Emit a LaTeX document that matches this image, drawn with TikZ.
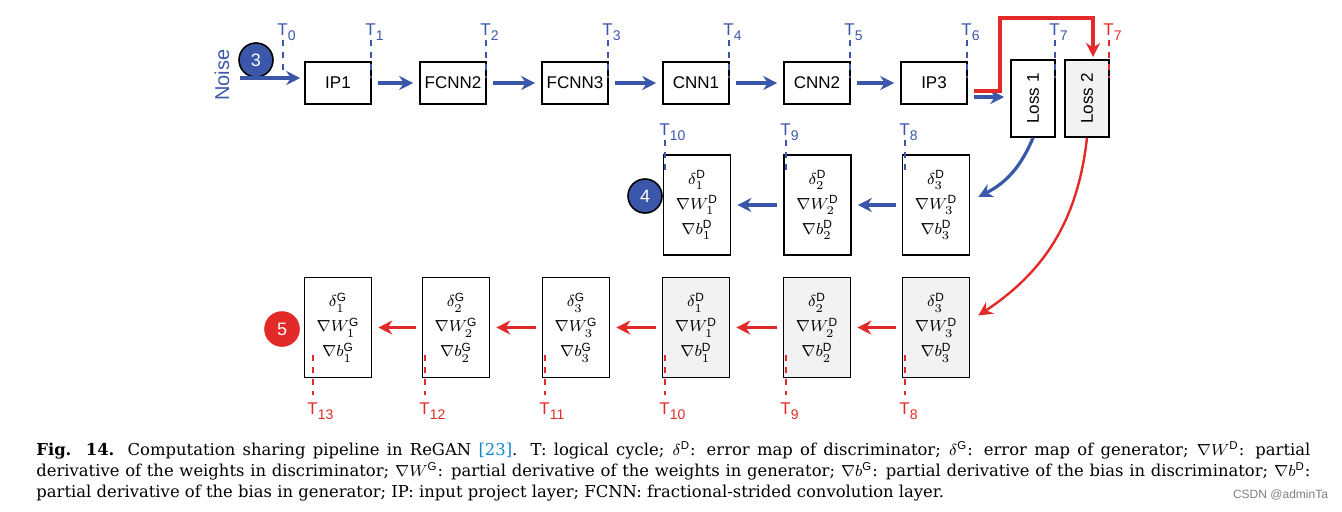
\documentclass[tikz,border=0pt]{standalone}
\usepackage{fontspec}
\setmainfont{Liberation Sans}
\newfontfamily\capfont{DejaVu Serif}
\usetikzlibrary{arrows.meta}
\definecolor{pblue}{RGB}{59,87,170}
\definecolor{pred}{RGB}{226,42,40}
\definecolor{pgrey}{RGB}{242,242,242}
\newcommand{\tlab}[1]{T\raisebox{-0.6ex}{\scriptsize #1}}
\newcommand{\gradbox}[2]{$\delta^{\mathrm{#2}}_{#1}$\\$\nabla W^{\mathrm{#2}}_{#1}$\\$\nabla b^{\mathrm{#2}}_{#1}$}
\begin{document}
\begin{tikzpicture}[x=0.5pt, y=-0.5pt, font=\fontsize{8.5}{12.5}\selectfont]
	\useasboundingbox (0,0) rectangle (1342,511);
	\tikzstyle{layer}=[draw, thick, minimum width=33pt, minimum height=21pt, inner sep=0pt]
	\tikzstyle{grad}=[draw, thick, minimum width=33.5pt, minimum height=50pt, align=center, inner sep=0pt]
	\tikzstyle{loss}=[draw, thick, minimum width=22pt, minimum height=38.5pt, inner sep=0pt]
	\tikzstyle{stage}=[circle, draw, thick, minimum size=17pt, inner sep=0pt, text=white, font=\fontsize{9}{10}\selectfont]
	\tikzstyle{flow}=[line width=1.6pt, -{Stealth[length=7pt, width=7pt]}]
	\tikzstyle{tmark}=[dashed, thick]
	
	% forward pass
	\begin{scope}[every node/.style={layer}]
		\node (ip1)   at (338,83) {IP1};
		\node (fcnn2) at (453,83) {FCNN2};
		\node (fcnn3) at (575,83) {FCNN3};
		\node (cnn1)  at (696,83) {CNN1};
		\node (cnn2)  at (817,83) {CNN2};
		\node (ip3)   at (934,83) {IP3};
	\end{scope}
	\node[loss] (loss1) at (1033,98.5) {\rotatebox{90}{Loss 1}};
	\node[loss, fill=pgrey] (loss2) at (1087,98.5) {\rotatebox{90}{Loss 2}};
	
	% discriminator gradients
	\node[grad] (d1) at (697,205) {\gradbox{1}{D}};
	\node[grad] (d2) at (817.5,205) {\gradbox{2}{D}};
	\node[grad] (d3) at (936,205) {\gradbox{3}{D}};
	
	% generator gradients
	\node[grad] (g1) at (338,327.5) {\gradbox{1}{G}};
	\node[grad] (g2) at (456,327.5) {\gradbox{2}{G}};
	\node[grad] (g3) at (576,327.5) {\gradbox{3}{G}};
	\node[grad, fill=pgrey] (e1) at (696,327.5) {\gradbox{1}{D}};
	\node[grad, fill=pgrey] (e2) at (817,327.5) {\gradbox{2}{D}};
	\node[grad, fill=pgrey] (e3) at (936,327.5) {\gradbox{3}{D}};
	
	\node[stage, fill=pblue] (s3) at (256,60) {3};
	\node[stage, fill=pblue] (s4) at (645,196) {4};
	\node[stage, fill=pred, draw=pred] (s5) at (282,329) {5};
	\node[text=pblue, rotate=90, font=\fontsize{10}{12}\selectfont] (noise) at (222,75) {Noise};
	\coordinate (nin) at (240,78);
	\coordinate (turn) at (1000,79);
	\coordinate (l2top) at (1093,57);
	
	\begin{scope}[pblue]
		\draw[flow] (nin) -- ([xshift=-2pt]ip1.west |- nin);
		\foreach \a/\b in {ip1/fcnn2, fcnn2/fcnn3, fcnn3/cnn1, cnn1/cnn2, cnn2/ip3} {
			\draw[flow] ([xshift=3pt]\a.east) -- ([xshift=-3pt]\b.west);
		}
		\draw[flow] ([xshift=3pt,yshift=-7pt]ip3.east) -- ([xshift=-3pt,yshift=-7pt]ip3.east -| loss1.west);
		\draw[flow] (loss1.south) to[bend left=20] ([xshift=4pt,yshift=4pt]d3.east);
		\draw[flow] ([xshift=-3pt]d3.west) -- ([xshift=3pt]d2.east);
		\draw[flow] ([xshift=-3pt]d2.west) -- ([xshift=3pt]d1.east);
		\foreach \x/\i in {283/0, 371/1, 486/2, 608/3, 729/4, 850/5, 967/6, 1055/7} {
			\draw[tmark] (\x,40) -- (\x,78);
			\node[anchor=base west, inner sep=0pt] at (\x-6,35) {\tlab{\i}};
		}
		\foreach \x/\i in {665/10, 786/9, 905/8} {
			\draw[tmark] (\x,140) -- (\x,170);
			\node[anchor=base west, inner sep=0pt] at (\x-6,135) {\tlab{\i}};
		}
	\end{scope}
	
	\begin{scope}[pred]
		\draw[flow] ([xshift=3pt,yshift=-4pt]ip3.east) -| (turn) |- (1093,18) -- (l2top);
		\draw[flow, line width=1.2pt] (loss2.south) to[bend left=25] ([xshift=4pt,yshift=6pt]e3.east);
		\foreach \a/\b in {e3/e2, e2/e1, e1/g3, g3/g2, g2/g1} {
			\draw[flow] ([xshift=-3pt]\a.west) -- ([xshift=3pt]\b.east);
		}
		\draw[tmark] (1109,40) -- (1109,78);
		\node[anchor=base west, inner sep=0pt] at (1103,35) {\tlab{7}};
		\foreach \x/\i in {313/13, 425/12, 545/11, 665/10, 786/9, 905/8} {
			\draw[tmark] (\x,355) -- (\x,395);
			\node[anchor=base west, inner sep=0pt] at (\x-6,414) {\tlab{\i}};
		}
	\end{scope}
	
	% caption
	\node[anchor=north west, inner sep=0pt, text width=637pt, align=justify, font=\capfont\fontsize{8.2}{10.5}\selectfont] (cap) at (36,441)
		{\textbf{Fig. 14.} Computation sharing pipeline in ReGAN {\color{cyan!70!blue}[23]}. T: logical cycle; $\delta^{\mathrm{D}}$: error map of discriminator; $\delta^{\mathrm{G}}$: error map of generator; $\nabla W^{\mathrm{D}}$: partial derivative of the weights in discriminator; $\nabla W^{\mathrm{G}}$: partial derivative of the weights in generator; $\nabla b^{\mathrm{G}}$: partial derivative of the bias in discriminator; $\nabla b^{\mathrm{D}}$: partial derivative of the bias in generator; IP: input project layer; FCNN: fractional-strided convolution layer.};
	\node[anchor=east, text=gray, font=\fontsize{6}{7}\selectfont] (mark) at (1335,495) {CSDN @adminTa};
\end{tikzpicture}
\end{document}
